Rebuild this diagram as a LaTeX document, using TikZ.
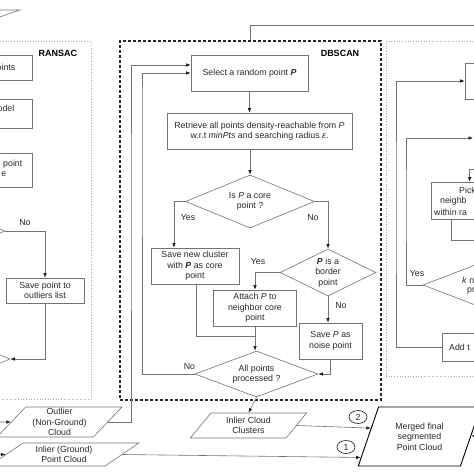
\documentclass[tikz,border=0pt]{standalone}
\usepackage{fontspec}
\setmainfont{Liberation Sans}
\usetikzlibrary{arrows.meta}
\usetikzlibrary{shapes.geometric}
\usetikzlibrary{positioning}
\usetikzlibrary{calc}

\definecolor{linegray}{RGB}{115,115,115}
\definecolor{txtgray}{RGB}{40,40,40}
\definecolor{dotgray}{RGB}{170,170,170}
\definecolor{tipgray}{RGB}{30,30,30}

\tikzset{
  box/.style={draw=linegray, line width=0.6pt, align=center, text=txtgray, inner sep=1pt},
  decision/.style={diamond, aspect=2, draw=linegray, line width=0.6pt, align=center, text=txtgray, inner sep=1pt},
  cloud/.style={trapezium, trapezium stretches=true, draw=linegray, line width=0.6pt, align=center, text=txtgray, inner sep=1pt},
  frag/.style={text=txtgray, inner sep=0pt},
  lab/.style={text=txtgray, inner sep=0pt},
  title/.style={font=\fontsize{9}{10}\selectfont\bfseries, text=black, inner sep=0pt},
  thinframe/.style={draw=dotgray, dotted, line width=0.7pt, inner sep=0pt},
  thickframe/.style={draw=black!85, dash pattern=on 3pt off 2pt, line width=1.1pt, inner sep=0pt},
  link/.style={draw=linegray, line width=0.6pt},
  arr/.style={link, -{Latex[length=4.5pt, width=3.5pt, color=tipgray]}},
  tag/.style={ellipse, draw=black!80, line width=0.7pt, minimum width=18pt, minimum height=13pt, inner sep=0pt, text=txtgray}
}

\begin{document}
\begin{tikzpicture}[x=1pt, y=-1pt, font=\fontsize{8.8}{10.5}\selectfont]
  \useasboundingbox (0,0) rectangle (474,474);
  \clip (0,0) rectangle (474,474);

  \node[thinframe, minimum width=200, minimum height=358] (ransac) at (-9,220) {};
  \node[thickframe, minimum width=261, minimum height=359] (dbscan) at (250.5,220.5) {};
  \node[thinframe, minimum width=200, minimum height=335] (knn) at (486,208.5) {};
  \node[title] (ransactitle) at (58,53) {RANSAC};
  \node[title] (dbscantitle) at (340,53) {DBSCAN};

  \node[cloud, trapezium left angle=51, trapezium right angle=129,
        minimum width=140, minimum height=22] (source) at (-50,21) {\strut};

  \node[box, minimum width=100, minimum height=25] (rA) at (-18,67.5) {};
  \node[frag, anchor=east] (rAtext) at (15.5,67.5) {oints};
  \node[box, minimum width=100, minimum height=29] (rB) at (-18,113.5) {};
  \node[frag, anchor=east] (rBtext) at (14.5,108.5) {odel};
  \node[box, minimum width=100, minimum height=34] (rC) at (-18,170) {};
  \node[frag, anchor=east] (rCtext) at (22.5,164.5) {point};
  \node[frag, anchor=east] (rCtext2) at (6.5,174.5) {e};
  \node[decision, minimum width=120, minimum height=50] (rD) at (-55,231) {};
  \node[box, minimum width=78, minimum height=25] (outl) at (45,290.5) {Save point to\\outliers list};
  \node[decision, minimum width=120, minimum height=50] (rE) at (-50,359) {};
  \node[lab] (no0) at (25,223) {No};

  \node[box, minimum width=117, minimum height=36] (select) at (249.5,73) {Select a random point \textbf{\textit{P}}};
  \node[box, minimum width=185, minimum height=36] (retrieve) at (259.5,131)
    {Retrieve all points density-reachable from \textit{P}\\w.r.t \textit{minPts} and searching radius \textit{ε}.};
  \node[decision, minimum width=129, minimum height=53] (core) at (250,201.5) {Is \textit{P} a core\\point ?};
  \node[box, minimum width=88, minimum height=36] (savecl) at (195,266) {Save new cluster\\with \textbf{\textit{P}} as core\\point};
  \node[decision, minimum width=96, minimum height=47] (border) at (328,272.5) {\textbf{\textit{P}} is a\\border\\point};
  \node[box, minimum width=83, minimum height=36] (attach) at (255,308) {Attach \textit{P} to\\neighbor core\\point};
  \node[box, minimum width=63, minimum height=36] (noise) at (330.5,341) {Save \textit{P} as\\noise point};
  \node[decision, minimum width=123, minimum height=46] (allp) at (256.5,374) {All points\\processed ?};
  \node[lab] (yes1) at (188,218) {Yes};
  \node[lab] (no1) at (313,218) {No};
  \node[lab] (yes2) at (258,262) {Yes};
  \node[lab] (no2) at (341,306) {No};
  \node[lab] (no3) at (189.5,367) {No};

  \node[cloud, trapezium left angle=51, trapezium right angle=129,
        minimum width=125, minimum height=30] (outlier) at (59.5,422) {Outlier\\(Non-Ground)\\Cloud};
  \node[cloud, trapezium left angle=38, trapezium right angle=142,
        minimum width=150, minimum height=23] (inlier) at (64,454.5) {Inlier (Ground)\\Point Cloud};
  \node[cloud, trapezium left angle=56, trapezium right angle=124,
        minimum width=117, minimum height=25] (clusters) at (248.5,425.5) {Inlier Cloud\\Clusters};
  \node[cloud, draw=black, line width=0.9pt, trapezium left angle=67, trapezium right angle=113,
        minimum width=123, minimum height=59] (merged) at (419.5,436.5) {Merged final\\segmented\\Point Cloud};
  \node[tag] (two) at (358,417) {2};
  \node[tag] (one) at (346,447) {1};

  \node[box, minimum width=60, minimum height=36] (boxA) at (495,81) {};
  \node[box, minimum width=100, minimum height=37] (pick) at (481,200.5) {};
  \node[frag, anchor=west] (picktext) at (459,190) {Pick};
  \node[frag, anchor=west] (picktext2) at (440,201) {neighb};
  \node[frag, anchor=west] (picktext3) at (434,212) {within ra};
  \node[decision, minimum width=156, minimum height=60] (kdiam) at (501,285) {};
  \node[frag, anchor=west] (ktext) at (462,280) {\textit{k} n};
  \node[frag, anchor=west] (ktext2) at (467,291) {pro};
  \node[box, minimum width=80, minimum height=28] (add) at (482,347) {};
  \node[frag, anchor=west] (addtext) at (449,347.5) {Add t};
  \node[lab] (yes3) at (417,274) {Yes};

  \coordinate (toprun) at (490,25);
  \coordinate (nextk) at (473,138);
  \coordinate (pickin) at (490,169);
  \coordinate (pickout) at (490,240);
  \coordinate (rightin) at (490,436);
  \coordinate (outlin) at (-20,422);
  \coordinate (inlin) at (-20,454.5);
  \coordinate (join) at (255,336);

  \draw[arr] (rD.east) -| (outl.north);
  \draw[arr] (outl.south) |- (rE.east);
  \draw[arr] (outlin) -- (outlier.west);
  \draw[arr] (inlin) -- (inlier.west);

  \draw[link] (dbscan.north) |- (toprun);
  \draw[arr] (select.south) -- (select.south |- retrieve.north);
  \draw[arr] (retrieve.south -| core.north) -- (core.north);
  \draw[arr] (core.west) -| ($(savecl.north)+(-21,0)$);
  \draw[arr] (core.east) -| (border.north);
  \draw[arr] (border.west) -| (attach.north);
  \draw[arr] (border.south) -- (border.south |- noise.north);
  \draw[link] ($(savecl.south)+(1,0)$) |- (join);
  \draw[arr] (attach.south) -- (attach.south |- allp.north);
  \draw[arr] (noise.south) |- (allp.east);
  \draw[arr] (allp.west) -| (142,100) |- (select.west);
  \draw[arr] (outlier.east) -| (131,200) |- ($(select.west)+(0,-8)$);
  \draw[arr] (allp.south) -- (clusters.north);

  \draw[arr] (clusters.east) -- ($(merged.top left corner)!0.36!(merged.bottom left corner)$);
  \draw[arr] (inlier.east) -- ($(merged.top left corner)!0.85!(merged.bottom left corner)$);
  \draw[arr] (rightin) -- ($(merged.top right corner)!0.49!(merged.bottom right corner)$);

  \draw[arr] (add.west) -| (396,200) |- (boxA.west);
  \draw[arr] (kdiam.west) -| (406,200) |- (nextk);
  \draw[arr] (pickin) -| ($(pick.north west)+(39,0)$);
  \draw[link] ($(pick.south west)+(21,0)$) |- (pickout);
\end{tikzpicture}
\end{document}
